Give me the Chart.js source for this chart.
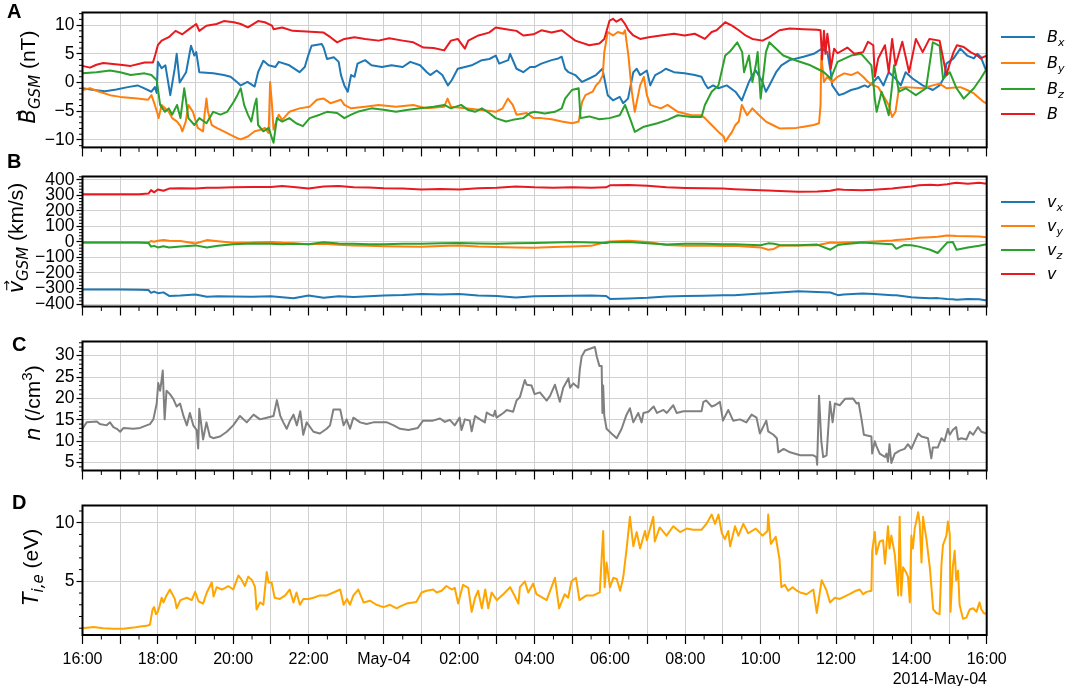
<!DOCTYPE html>
<html>
<head>
<meta charset="utf-8">
<script src="https://cdn.jsdelivr.net/npm/chart.js"></script>
<style>
  body { margin: 0; background: #fff; width: 1065px; height: 686px; position: relative; overflow: hidden;
         font-family: "Liberation Sans", Arial, sans-serif; color: #000; }
  canvas { position: absolute; left: 0; }
  .letter { position: absolute; font-weight: bold; font-size: 20px; line-height: 20px; }
  .yt { position: absolute; font-size: 21px; line-height: 26px; white-space: nowrap;
        transform: translate(-50%, -50%) rotate(-90deg); }
  .m { font-family: "DejaVu Sans", sans-serif; font-style: oblique; }
  .yt sub { font-size: 15px; vertical-align: -5px; line-height: 0; }
  .yt sup { font-size: 15px; vertical-align: 8px; line-height: 0; }
  .vec { position: relative; display: inline-block; }
  .arr { position: absolute; left: 2px; top: -9px; font-size: 13px; font-style: normal; }
  .leg { position: absolute; left: 1001px; height: 0; }
  .leg .ln { position: absolute; left: 0; top: -1.25px; width: 34px; height: 2.5px; }
  .leg .lt { position: absolute; left: 46px; top: -10px; line-height: 20px; white-space: nowrap;
             font-family: "DejaVu Sans", sans-serif; font-style: oblique; font-size: 16px; }
  .leg sub { font-size: 11px; vertical-align: -4px; line-height: 0; }
  .date { position: absolute; right: 78px; top: 669px; font-size: 16px; line-height: 20px; }
</style>
</head>
<body>
<canvas id="pa"></canvas>
<canvas id="pb"></canvas>
<canvas id="pc"></canvas>
<canvas id="pd"></canvas>

<div class="letter" style="left:7px; top:1px">A</div>
<div class="letter" style="left:7px; top:151px">B</div>
<div class="letter" style="left:12px; top:334px">C</div>
<div class="letter" style="left:12px; top:492px">D</div>

<div class="yt" style="left:28px; top:77px"><span class="m vec">B<span class="arr">&rarr;</span></span><sub class="m">GSM</sub> (nT)</div>
<div class="yt" style="left:16px; top:238px"><span class="m vec">v<span class="arr">&rarr;</span></span><sub class="m">GSM</sub> (km/s)</div>
<div class="yt" style="left:33px; top:403px"><span class="m">n</span> (/cm<sup>3</sup>)</div>
<div class="yt" style="left:31px; top:567px"><span class="m">T</span><sub class="m">i,e</sub> (eV)</div>

<div class="leg" style="top:37px"><span class="ln" style="background:#1f77b4"></span><span class="lt">B<sub>x</sub></span></div>
<div class="leg" style="top:63px"><span class="ln" style="background:#ff7f0e"></span><span class="lt">B<sub>y</sub></span></div>
<div class="leg" style="top:89px"><span class="ln" style="background:#2ca02c"></span><span class="lt">B<sub>z</sub></span></div>
<div class="leg" style="top:114px"><span class="ln" style="background:#e8191f"></span><span class="lt">B</span></div>

<div class="leg" style="top:202px"><span class="ln" style="background:#1f77b4"></span><span class="lt">v<sub>x</sub></span></div>
<div class="leg" style="top:226px"><span class="ln" style="background:#ff7f0e"></span><span class="lt">v<sub>y</sub></span></div>
<div class="leg" style="top:250px"><span class="ln" style="background:#2ca02c"></span><span class="lt">v<sub>z</sub></span></div>
<div class="leg" style="top:274px"><span class="ln" style="background:#e8191f"></span><span class="lt">v</span></div>

<div class="date">2014-May-04</div>

<script>
// hours after 2014-05-03 16:00
const hourTicks = [0,1,2,3,4,5,6,7,8,9,10,11,12,13,14,15,16,17,18,19,20,21,22,23,24]
const hourLabels = ['16:00','18:00','20:00','22:00','May-04','02:00','04:00','06:00','08:00','10:00','12:00','14:00','16:00']

// panel A, B_GSM (nT)
const bxTime = [0,0.3,0.6,0.9,1.2,1.46,1.6,1.83,1.92,1.97,2.0,2.1,2.2,2.33,2.45,2.5,2.58,2.75,2.88,2.97,3.02,3.1,3.47,3.75,3.93,4.1,4.2,4.38,4.57,4.66,4.8,4.94,5.12,5.21,5.49,5.76,5.9,5.99,6.08,6.35,6.4,6.49,6.67,6.8,6.86,6.95,7.04,7.13,7.22,7.3,7.5,7.67,7.95,8.2,8.5,8.7,8.96,9.14,9.23,9.4,9.55,9.7,9.8,9.96,10.15,10.33,10.6,10.8,10.97,11.06,11.3,11.35,11.52,11.7,11.88,12.0,12.18,12.45,12.63,12.72,12.81,12.9,13.08,13.26,13.45,13.63,13.8,13.94,14.08,14.26,14.35,14.48,14.62,14.71,14.8,14.98,15.07,15.2,15.35,15.48,15.7,15.98,16.25,16.43,16.52,16.6,16.74,16.88,17.1,17.33,17.5,17.69,17.78,17.87,18.05,18.14,18.23,18.41,18.55,18.77,19.14,19.41,19.63,19.77,19.86,19.9,20.08,20.22,20.4,20.58,20.76,20.85,20.99,21.12,21.26,21.4,21.58,21.72,21.85,22.03,22.3,22.57,22.75,22.88,22.93,23.12,23.3,23.48,23.66,23.75,23.84,24]
const bxVals = [-1.0,-1.3,-1.5,-1.2,-0.8,-0.5,-0.9,-1.6,-0.8,-1.8,3.6,2.5,3.0,-2.2,2.5,5.0,0.0,1.8,6.4,4.7,5.3,1.8,1.6,1.3,1.0,0.1,-0.5,0.1,-0.7,1.8,3.8,3.0,2.7,3.6,3.0,1.8,2.7,4.7,6.4,6.7,6.1,4.1,4.4,3.6,1.3,-0.5,-1.6,1.3,1.0,3.3,3.9,3.0,2.7,3.0,2.7,3.6,3.0,1.8,1.3,2.1,1.3,-0.5,0.4,2.4,2.7,3.0,3.9,4.1,4.7,3.3,3.9,5.0,2.4,1.8,2.7,2.7,3.3,3.9,4.2,4.5,2.4,1.8,1.3,0.1,0.7,1.3,2.4,-2.2,-3.1,-2.5,-3.6,-2.8,1.8,2.4,1.3,2.1,-0.5,1.3,1.8,2.4,1.8,1.6,1.3,1.0,-0.2,-1.0,-0.5,-1.0,-0.5,-1.6,-3.1,0.1,1.3,2.1,0.1,-1.6,-0.5,1.8,3.0,3.9,4.5,5.0,5.9,5.3,1.8,-0.5,-2.2,-1.9,-1.3,-1.0,-0.5,-0.8,0.1,1.0,-0.5,1.8,0.7,-0.5,1.8,0.7,-0.5,-1.3,-0.5,1.0,3.3,4.2,5.9,4.7,4.2,5.0,4.5,1.8]
const byTime = [0,0.2,0.45,0.73,1.0,1.46,1.74,1.83,1.92,2.0,2.02,2.1,2.29,2.38,2.51,2.6,2.65,2.74,2.81,2.93,3.06,3.2,3.24,3.29,3.33,3.43,3.56,3.75,3.93,4.11,4.2,4.39,4.57,4.75,4.84,4.94,4.98,5.03,5.07,5.21,5.3,5.49,5.76,6.03,6.22,6.4,6.58,6.86,6.95,7.13,7.5,7.86,8.32,8.78,9.14,9.6,9.69,9.78,10.15,10.6,10.97,11.15,11.29,11.42,11.52,11.79,11.97,12.18,12.45,12.72,13.0,13.17,13.26,13.35,13.54,13.63,13.72,13.81,13.85,13.94,14.08,14.21,14.35,14.4,14.49,14.58,14.66,14.8,14.9,14.98,15.07,15.35,15.53,15.8,16.16,16.43,16.52,16.7,16.88,17.02,17.06,17.24,17.33,17.42,17.5,17.64,17.78,17.96,18.14,18.32,18.5,18.95,19.14,19.41,19.55,19.59,19.61,19.68,19.77,19.9,20.04,20.22,20.4,20.58,20.72,20.85,20.99,21.12,21.4,21.49,21.58,21.67,21.85,22.3,22.57,22.75,22.93,23.3,23.48,23.66,23.92,24]
const byVals = [-1.3,-1.0,-1.6,-2.2,-2.5,-2.8,-3.0,-2.2,-3.9,-5.6,-6.2,-3.9,-5.1,-6.2,-6.8,-7.6,-8.5,-6.8,-3.9,-5.1,-7.9,-8.5,-5.6,-2.8,-5.1,-7.4,-7.9,-8.5,-9.1,-9.7,-9.9,-9.4,-8.5,-8.2,-7.9,-8.8,0.1,-3.9,-8.2,-5.6,-6.5,-5.1,-4.5,-4.2,-3.0,-2.8,-3.6,-3.0,-3.9,-4.5,-4.2,-3.9,-4.2,-3.9,-4.5,-4.2,-2.8,-4.2,-4.5,-4.8,-5.1,-4.5,-2.8,-3.9,-5.6,-5.3,-6.2,-6.2,-6.4,-6.8,-7.1,-6.8,-3.4,-2.2,-1.6,-0.5,0.1,1.3,5.3,8.8,8.2,8.8,8.5,9.1,4.7,-1.6,-5.1,-0.5,1.0,-2.2,-3.9,-4.5,-3.9,-5.1,-5.7,-5.7,-6.2,-7.4,-8.6,-9.4,-10.3,-8.6,-7.4,-6.8,-3.9,-5.7,-4.5,-5.7,-6.8,-7.4,-8.0,-7.9,-7.7,-7.4,-7.1,-3.9,4.7,0.1,1.0,0.1,1.0,1.6,1.3,1.8,1.0,0.1,-0.5,-0.8,-3.9,-6.0,-5.1,-1.0,-0.8,-1.0,-0.5,-0.2,-1.0,-0.8,-1.3,-1.9,-3.4,-3.6]
const bzTime = [0,0.37,0.73,1.0,1.28,1.65,1.83,1.97,2.06,2.19,2.29,2.38,2.51,2.6,2.7,2.74,2.81,2.97,3.1,3.29,3.47,3.66,3.84,4.02,4.11,4.2,4.29,4.39,4.48,4.57,4.62,4.66,4.8,4.94,5.03,5.07,5.16,5.3,5.49,5.67,5.85,6.03,6.3,6.49,6.76,6.95,7.13,7.3,7.67,8.04,8.32,8.6,8.96,9.32,9.6,9.78,10.05,10.24,10.42,10.6,10.79,10.97,11.24,11.42,11.7,11.88,12.0,12.27,12.54,12.72,12.81,12.99,13.17,13.22,13.45,13.72,13.99,14.26,14.4,14.53,14.66,14.9,15.26,15.53,15.8,16.16,16.43,16.52,16.7,16.88,17.06,17.2,17.38,17.51,17.56,17.69,17.78,17.87,17.92,18.0,18.14,18.23,18.41,18.6,18.96,19.32,19.5,19.68,19.86,20.04,20.4,20.67,20.94,20.99,21.03,21.08,21.21,21.35,21.4,21.49,21.54,21.67,21.85,22.12,22.39,22.57,22.75,22.84,23.02,23.2,23.39,23.66,23.84,24]
const bzVals = [1.6,1.8,2.1,1.8,1.3,1.6,1.3,0.4,-3.9,-5.1,-4.5,-5.6,-3.9,-6.2,-1.0,-2.8,-6.2,-7.4,-6.2,-7.1,-5.1,-5.6,-5.1,-3.3,-2.2,-1.0,-3.9,-5.6,-6.8,-3.9,-2.8,-7.4,-8.5,-7.9,-9.7,-10.5,-6.2,-6.8,-6.2,-7.1,-7.6,-6.2,-5.6,-5.1,-5.3,-6.2,-5.6,-5.1,-4.5,-4.8,-5.1,-4.8,-4.5,-4.2,-3.9,-4.5,-3.9,-4.8,-5.1,-4.5,-5.3,-6.2,-6.8,-6.5,-6.2,-5.3,-5.1,-5.4,-5.1,-4.5,-2.8,-1.3,-1.0,-6.2,-5.9,-6.4,-6.2,-5.7,-3.9,-6.2,-8.6,-7.7,-7.1,-6.5,-5.7,-6.0,-6.0,-3.9,-1.6,-0.5,4.7,5.5,7.0,5.3,1.8,4.7,0.1,3.0,5.3,-2.8,5.3,7.0,5.9,4.7,3.8,3.0,2.4,1.8,0.7,3.6,4.7,5.0,3.0,0.1,-2.8,-5.1,-1.6,-4.5,-5.7,-0.5,3.0,-1.6,-1.0,-2.2,-1.0,7.0,6.4,0.7,1.8,-1.0,-2.8,-1.0,0.7,2.4]
const bTime = [0,0.2,0.37,0.55,1.0,1.28,1.65,1.87,1.93,2.0,2.1,2.29,2.47,2.65,2.83,3.02,3.1,3.29,3.56,3.75,4.02,4.2,4.39,4.66,4.84,5.03,5.07,5.3,5.58,5.94,6.4,6.58,6.76,6.95,7.22,7.5,7.86,8.14,8.5,8.78,9.05,9.32,9.6,9.78,9.96,10.15,10.24,10.51,10.79,10.97,11.24,11.52,11.7,11.97,12.18,12.45,12.72,12.9,13.08,13.45,13.72,13.85,13.99,14.08,14.17,14.3,14.4,14.49,14.62,14.8,15.03,15.35,15.7,15.98,16.25,16.52,16.7,16.83,17.06,17.24,17.42,17.6,17.78,18.05,18.23,18.5,18.77,19.14,19.5,19.59,19.63,19.68,19.72,19.77,19.82,19.86,19.95,20.04,20.3,20.49,20.72,20.85,20.99,21.03,21.12,21.3,21.4,21.49,21.58,21.76,21.94,22.12,22.3,22.48,22.75,22.88,22.93,23.02,23.12,23.21,23.39,23.57,23.75,23.84,24]
const bVals = [2.9,2.6,3.1,3.4,3.1,2.9,3.5,3.5,4.8,6.5,7.3,7.9,9.0,8.4,9.3,10.2,9.0,9.9,10.2,10.7,10.5,10.2,9.6,10.7,10.5,9.9,9.3,9.6,9.0,8.9,8.7,7.9,7.0,7.6,7.9,7.6,7.3,7.7,7.3,7.0,6.1,6.0,5.6,7.3,7.6,5.9,7.3,8.2,8.7,9.6,9.3,9.0,8.2,8.4,9.1,8.7,9.1,8.2,7.3,6.5,6.8,7.6,10.8,11.1,10.6,11.1,10.2,9.1,8.2,7.6,7.9,8.2,8.5,8.2,8.5,7.6,8.8,9.1,10.5,9.9,9.1,8.2,7.6,7.3,7.9,9.1,9.4,9.3,9.2,9.1,4.0,9.0,5.0,8.5,6.0,2.4,5.9,5.1,6.1,5.0,5.3,7.1,6.5,1.0,4.2,6.5,1.8,7.6,3.0,7.1,1.8,7.6,5.3,7.6,7.3,3.0,1.3,3.3,5.3,6.5,6.2,5.3,4.7,4.2,4.7]

// panel B, v_GSM (km/s), one shared time list
const vTime = [0,0.5,1.0,1.5,1.75,1.82,1.9,2.0,2.15,2.3,2.6,3.0,3.3,3.6,4.0,4.5,5.0,5.3,5.6,6.0,6.4,6.8,7.2,7.6,8.0,8.5,9.0,9.5,10.0,10.5,11.0,11.5,12.0,12.5,13.0,13.5,13.9,14.0,14.5,15.0,15.5,16.0,16.5,17.0,17.3,18.0,18.2,18.35,18.5,19.0,19.5,19.85,20.05,20.2,20.7,21.0,21.5,21.6,21.8,22.0,22.2,22.5,22.7,22.95,23.1,23.2,23.5,23.8,24]
const vxVals = [-307,-307,-307,-308,-310,-328,-320,-330,-325,-348,-345,-338,-353,-350,-352,-353,-350,-356,-363,-345,-360,-350,-354,-350,-345,-342,-336,-338,-336,-345,-348,-358,-350,-348,-346,-345,-348,-367,-364,-360,-352,-349,-346,-343,-343,-332,-330,-328,-326,-318,-322,-326,-343,-338,-332,-336,-343,-344,-350,-357,-360,-363,-362,-368,-370,-373,-367,-370,-377]
const vyVals = [-4,-4,-4,-4,-3,6,2,8,12,8,6,-10,12,4,-5,-4,0,-5,-8,-14,-12,-18,-22,-25,-28,-30,-31,-26,-22,-30,-33,-35,-37,-33,-30,-25,0,3,8,0,-20,-25,-23,-26,-25,-35,-50,-45,-25,-23,-21,-4,-5,-3,0,3,10,12,16,20,27,30,33,41,40,38,37,35,30]
const vzVals = [-4,-4,-4,-4,-6,-30,-25,-35,-28,-35,-29,-22,-35,-25,-15,-10,-12,-14,-12,-14,-2,-10,-12,-15,-14,-12,-12,-8,-6,-10,-12,-8,-6,-4,0,-4,-6,-2,0,-8,-16,-11,-12,-15,-15,-21,-9,-12,-20,-21,-17,-50,-20,-15,-4,-8,-15,-44,-20,-21,-30,-50,-71,-4,0,-50,-36,-25,-15]
const vVals = [308,307,308,308,312,334,320,338,330,344,346,345,349,350,352,355,354,361,354,344,358,361,352,351,346,344,338,342,338,346,350,358,352,350,352,350,352,365,368,362,352,348,346,344,340,334,332,330,328,324,325,330,340,336,334,336,345,348,352,357,365,369,366,372,378,381,375,381,375]

// panel C, n (/cm3)
const nTime = [0,0.11,0.38,0.46,0.64,0.73,0.82,0.91,1.0,1.09,1.35,1.53,1.7,1.79,1.88,1.97,2.01,2.06,2.1,2.13,2.15,2.18,2.23,2.32,2.41,2.5,2.59,2.68,2.77,2.85,2.94,3.03,3.07,3.1,3.2,3.29,3.38,3.47,3.65,3.83,4.0,4.18,4.36,4.54,4.71,4.89,5.07,5.16,5.25,5.33,5.42,5.51,5.6,5.69,5.78,5.86,5.95,6.13,6.3,6.48,6.57,6.66,6.84,6.93,7.01,7.1,7.19,7.37,7.54,7.72,7.9,8.08,8.26,8.43,8.65,8.9,9.04,9.3,9.49,9.62,9.75,9.88,10.01,10.06,10.15,10.28,10.33,10.42,10.55,10.68,10.73,10.82,10.91,10.95,10.99,11.17,11.26,11.43,11.52,11.61,11.74,11.79,11.92,12.0,12.14,12.32,12.41,12.54,12.67,12.76,12.9,12.94,13.03,13.16,13.2,13.25,13.34,13.47,13.6,13.65,13.72,13.78,13.8,13.82,13.85,13.91,14.04,14.18,14.31,14.44,14.53,14.62,14.75,14.84,14.89,15.02,15.16,15.25,15.42,15.51,15.68,15.77,15.95,16.2,16.43,16.48,16.56,16.7,16.79,16.92,17.0,17.14,17.27,17.45,17.62,17.76,17.89,17.98,18.15,18.2,18.34,18.43,18.47,18.61,18.78,19.05,19.4,19.48,19.5,19.55,19.61,19.66,19.75,19.84,19.91,19.97,20.1,20.24,20.45,20.55,20.6,20.68,20.74,20.94,20.96,21.03,21.07,21.16,21.3,21.34,21.38,21.42,21.47,21.56,21.69,21.82,21.91,22.0,22.09,22.18,22.27,22.44,22.53,22.57,22.7,22.8,22.88,22.97,23.02,23.1,23.19,23.24,23.33,23.46,23.55,23.64,23.77,23.86,24]
const nVals = [12.9,14.4,14.6,14.0,13.7,14.4,13.3,12.9,12.2,13.1,12.9,13.1,13.7,14.0,15.1,18.8,23.6,21.8,24.3,26.5,21.8,15.1,21.8,21.0,19.9,18.1,18.8,15.9,13.7,16.6,13.7,12.6,8.3,17.6,10.4,14.4,11.1,10.7,11.1,12.2,13.7,15.9,14.4,16.2,15.1,15.5,15.9,19.6,15.9,14.4,12.9,14.8,16.2,13.7,17.0,11.5,14.4,12.2,11.8,12.9,13.7,17.4,17.4,13.7,15.1,12.9,15.5,14.4,14.0,14.4,14.4,14.4,13.7,12.9,12.6,13.1,14.8,14.8,15.3,14.5,15.0,13.7,15.5,12.6,15.1,14.8,12.3,15.9,15.1,14.4,16.7,16.2,15.9,17.1,15.5,16.6,17.3,16.9,19.5,20.3,24.3,23.2,23.0,21.0,21.4,19.5,20.6,23.2,19.2,22.5,24.7,22.5,23.5,22.5,26.8,29.8,31.2,31.6,32.0,29.8,27.6,27.6,16.6,23.0,15.9,12.9,11.8,10.7,12.9,16.2,17.7,14.4,16.6,14.4,16.6,16.9,18.1,16.6,17.3,16.6,18.4,16.6,17.0,17.0,17.0,19.2,19.5,18.1,18.4,19.2,14.8,17.3,14.8,15.1,14.4,16.2,15.5,11.8,14.8,12.3,11.5,10.7,7.4,8.2,7.4,6.7,6.7,6.3,4.5,20.6,10.0,6.3,6.7,19.2,14.4,18.8,18.4,19.9,20.0,18.8,19.0,15.0,11.5,11.1,7.1,10.0,8.9,7.1,6.3,7.1,5.2,9.3,4.9,7.1,7.8,8.2,9.3,8.2,10.0,11.8,11.1,10.7,6.0,8.5,8.5,10.7,10.0,12.9,11.5,12.6,13.3,10.4,10.7,10.4,12.2,11.5,13.3,12.2,11.8]

// panel D, T_i,e (eV)
const tTime = [0,0.29,0.55,0.82,1.08,1.35,1.53,1.7,1.79,1.86,1.9,1.95,1.99,2.04,2.1,2.15,2.23,2.32,2.36,2.45,2.5,2.6,2.77,2.9,2.99,3.08,3.2,3.3,3.43,3.48,3.56,3.7,3.87,4.0,4.14,4.23,4.31,4.4,4.5,4.58,4.62,4.71,4.8,4.89,4.94,5.02,5.1,5.24,5.38,5.5,5.6,5.68,5.77,5.86,6.0,6.13,6.3,6.48,6.66,6.84,6.93,7.02,7.1,7.19,7.32,7.46,7.63,7.8,7.99,8.16,8.34,8.42,8.6,8.86,9.0,9.13,9.31,9.4,9.53,9.66,9.8,9.88,9.97,10.1,10.24,10.33,10.42,10.5,10.6,10.69,10.77,10.86,11.0,11.17,11.35,11.48,11.57,11.61,11.74,11.83,11.96,12.05,12.32,12.54,12.65,12.8,12.89,12.98,13.1,13.19,13.38,13.56,13.73,13.78,13.82,13.86,13.91,14.0,14.09,14.18,14.27,14.35,14.44,14.53,14.62,14.71,14.8,14.93,14.98,15.15,15.19,15.32,15.5,15.68,15.86,16.04,16.21,16.43,16.56,16.7,16.79,16.88,16.97,17.05,17.14,17.19,17.32,17.41,17.54,17.67,17.87,18.05,18.18,18.2,18.27,18.4,18.5,18.55,18.64,18.73,18.85,18.96,19.05,19.22,19.4,19.49,19.62,19.75,19.84,19.97,20.1,20.36,20.53,20.63,20.72,20.81,20.94,20.96,21.03,21.07,21.16,21.25,21.3,21.38,21.42,21.47,21.56,21.65,21.69,21.73,21.78,21.87,21.91,21.96,22.0,22.04,22.09,22.18,22.22,22.27,22.31,22.4,22.49,22.58,22.66,22.75,22.8,22.84,22.93,22.97,23.02,23.04,23.1,23.15,23.19,23.24,23.28,23.37,23.46,23.55,23.64,23.73,23.81,23.86,23.92,24]
const tVals = [1.0,1.1,1.0,0.95,0.95,1.05,1.15,1.2,1.3,2.6,2.8,2.2,2.35,2.8,3.6,3.2,3.8,4.3,4.05,3.5,2.7,3.4,3.6,3.4,4.1,3.3,3.1,4.05,4.9,3.7,4.5,4.3,4.6,4.3,5.5,5.1,4.6,5.4,5.1,4.5,2.6,3.2,3.0,5.8,4.9,4.9,3.6,3.5,3.8,4.3,3.2,4.05,3.0,3.5,3.5,3.6,3.8,3.8,4.05,4.3,3.0,3.5,3.0,3.8,4.3,3.2,3.35,3.0,2.8,3.0,2.7,2.84,3.1,3.24,4.05,4.2,4.3,4.05,4.2,4.6,4.3,4.45,3.1,4.7,4.45,2.4,3.6,4.2,2.7,4.3,2.7,4.05,3.4,3.9,4.5,3.7,3.1,4.5,5.0,4.05,4.8,3.9,3.4,5.3,2.7,3.9,3.6,5.0,5.3,3.4,3.8,3.8,4.05,7.0,9.3,4.5,6.6,4.5,5.3,5.2,4.2,5.3,7.7,10.5,8.0,9.2,7.8,9.3,8.5,10.5,8.4,9.6,8.9,9.7,9.2,9.5,9.4,9.4,9.9,10.7,9.9,10.7,9.1,8.6,9.3,8.0,9.7,8.9,9.9,9.1,9.5,8.9,9.3,10.7,8.2,8.8,6.9,4.5,4.7,4.2,4.5,4.2,4.05,3.9,4.3,2.3,5.1,4.2,3.2,3.6,3.5,3.9,4.2,4.3,3.9,4.1,4.2,7.6,9.2,7.3,8.4,8.5,6.5,9.7,7.8,8.9,7.3,3.8,10.5,3.8,6.2,5.7,5.4,3.2,8.9,7.8,9.5,10.9,10.0,6.6,10.5,8.6,6.2,2.6,2.3,2.2,6.5,8.1,8.9,10.1,9.0,2.4,6.2,7.6,5.1,5.9,3.0,1.8,1.9,2.6,2.7,2.4,3.2,2.6,2.3,2.2]

// y tick labels per panel
const ticksA = [-10, -5, 0, 5, 10]
const ticksB = [-400, -300, -200, -100, 0, 100, 200, 300, 400]
const ticksC = [5, 10, 15, 20, 25, 30]
const ticksD = [5, 10]

const BLUE = '#1f77b4', ORANGE = '#ff7f0e', GREEN = '#2ca02c', RED = '#e8191f'
const FONT = "'Liberation Sans', Arial, sans-serif"

Chart.defaults.font.family = FONT
Chart.defaults.color = '#000'

const pts = (t, v) => t.map((x, i) => ({ x: x, y: v[i] }))
const line = (t, v, color) => ({
  data: pts(t, v), borderColor: color, borderWidth: 2, pointRadius: 0,
  tension: 0, fill: false, borderJoinStyle: 'round',
})
const minusFmt = (v) => (v < 0 ? '\u2212' + Math.abs(v) : String(v))

// frame + minor ticks, drawn through the chart's own scales
const framePlugin = {
  id: 'frame',
  afterDraw(chart, args, opts) {
    const { ctx, chartArea: a, scales } = chart
    const x = scales.x, y = scales.y
    ctx.save()
    ctx.strokeStyle = '#000'
    ctx.lineWidth = 1
    ctx.beginPath()
    for (let h = 0.5; h < 24; h += 1) {
      const px = x.getPixelForValue(h)
      ctx.moveTo(px, a.bottom); ctx.lineTo(px, a.bottom + 4.5)
    }
    const step = opts.minor
    for (let v = Math.ceil(y.min / step) * step; v <= y.max; v += step) {
      if (Math.abs(v / opts.major - Math.round(v / opts.major)) < 1e-6) continue
      const py = y.getPixelForValue(v)
      ctx.moveTo(a.left, py); ctx.lineTo(a.left - 3.5, py)
    }
    ctx.stroke()
    ctx.lineWidth = 2
    ctx.strokeRect(a.left, a.top, a.right - a.left, a.bottom - a.top)
    ctx.restore()
  },
}

function makePanel(id, p) {
  const cv = document.getElementById(id)
  const top = Math.floor(p.plotTop) - 6
  const h = Math.ceil(p.plotBottom + p.below) - top
  cv.width = 1065
  cv.height = h
  cv.style.top = top + 'px'
  const xh = top + h - p.plotBottom

  new Chart(cv, {
    type: 'line',
    data: { datasets: p.datasets },
    options: {
      responsive: false,
      animation: false,
      events: [],
      layout: { padding: { top: p.plotTop - top, right: 1065 - 986.7, bottom: 0, left: 0 } },
      plugins: {
        legend: { display: false },
        tooltip: { enabled: false },
        frame: { minor: p.minor, major: p.major },
      },
      scales: {
        x: {
          type: 'linear', min: 0, max: 24,
          afterBuildTicks: (s) => { s.ticks = hourTicks.map((v) => ({ value: v })) },
          afterFit: (s) => { s.height = xh },
          grid: { color: '#d0d0d0', lineWidth: 1, tickColor: '#000', tickWidth: 1.2, tickLength: 9 },
          border: { display: false },
          ticks: {
            display: p.showX, autoSkip: false, maxRotation: 0, minRotation: 0, padding: 6,
            font: { size: 16 },
            callback: (v) => (v % 2 === 0 ? hourLabels[v / 2] : ''),
          },
        },
        y: {
          min: p.min, max: p.max,
          afterBuildTicks: (s) => { s.ticks = p.ticks.map((v) => ({ value: v })) },
          afterFit: (s) => { s.width = 82.5 },
          grid: { color: '#d0d0d0', lineWidth: 1, tickColor: '#000', tickWidth: 1.2, tickLength: 6 },
          border: { display: false },
          ticks: { autoSkip: false, padding: 2, font: { size: 17.5 }, callback: minusFmt },
        },
      },
    },
    plugins: [framePlugin],
  })
}

makePanel('pa', {
  plotTop: 6.9, plotBottom: 147.4, below: 12, min: -11.3, max: 12.2, ticks: ticksA,
  minor: 1, major: 5, showX: false,
  datasets: [line(bTime, bVals, RED), line(bzTime, bzVals, GREEN), line(byTime, byVals, ORANGE), line(bxTime, bxVals, BLUE)],
})
makePanel('pb', {
  plotTop: 170, plotBottom: 306.7, below: 12, min: -416, max: 422, ticks: ticksB,
  minor: 20, major: 100, showX: false,
  datasets: [line(vTime, vVals, RED), line(vTime, vzVals, GREEN), line(vTime, vyVals, ORANGE), line(vTime, vxVals, BLUE)],
})
makePanel('pc', {
  plotTop: 335, plotBottom: 471, below: 12, min: 3.15, max: 33.3, ticks: ticksC,
  minor: 1, major: 5, showX: false,
  datasets: [line(nTime, nVals, '#808080')],
})
makePanel('pd', {
  plotTop: 499, plotBottom: 635, below: 51, min: 0.42, max: 11.47, ticks: ticksD,
  minor: 1, major: 5, showX: true,
  datasets: [line(tTime, tVals, '#ffa500')],
})
</script>
</body>
</html>
